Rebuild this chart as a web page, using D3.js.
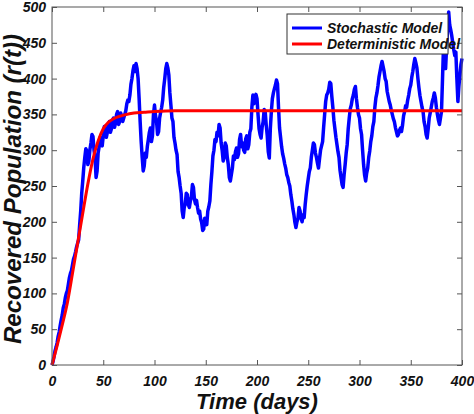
<!DOCTYPE html>
<html>
<head>
<meta charset="utf-8">
<script src="https://cdn.jsdelivr.net/npm/d3@7"></script>
<style>
  body { margin: 0; background: #fff; }
  text { font-family: "Liberation Sans", Arial, sans-serif; font-weight: bold; font-style: italic; }
</style>
</head>
<body>
<div id="app"></div>
<script>
// stochastic trajectory, one value per day (day 0..400)
const stochValues = [
  0, 5, 12, 20, 25, 31, 40, 46, 55, 63, 70, 80, 85, 94, 100, 104, 113, 122, 128, 132, 140,
  148, 152, 158, 165, 170, 175, 196, 215, 240, 257, 276, 290, 302, 299, 280, 285, 301, 310, 322, 319,
  300, 290, 262, 271, 296, 305, 318, 312, 306, 320, 333, 331, 318, 325, 336, 340, 325, 330, 342, 345,
  332, 338, 350, 354, 336, 340, 352, 348, 340, 345, 350, 355, 365, 370, 368, 377, 392, 400, 411, 418,
  410, 421, 414, 400, 372, 340, 312, 290, 271, 278, 296, 290, 305, 315, 325, 331, 312, 320, 350, 363,
  348, 340, 322, 326, 345, 353, 360, 370, 388, 400, 414, 421, 415, 405, 380, 363, 345, 340, 318, 310,
  300, 294, 270, 262, 250, 240, 215, 206, 220, 225, 240, 238, 224, 220, 229, 235, 252, 248, 231, 225,
  230, 220, 212, 215, 204, 199, 188, 190, 205, 201, 196, 215, 221, 229, 252, 270, 292, 300, 315, 312,
  325, 320, 336, 331, 310, 300, 285, 290, 310, 306, 290, 280, 262, 257, 266, 275, 292, 287, 298, 303,
  290, 295, 315, 322, 305, 310, 300, 297, 316, 320, 302, 308, 325, 330, 360, 377, 365, 370, 378, 372,
  350, 330, 322, 317, 332, 340, 357, 354, 335, 320, 298, 289, 330, 354, 372, 380, 386, 391, 398, 393,
  360, 331, 318, 305, 295, 289, 281, 275, 266, 262, 255, 250, 238, 229, 218, 210, 199, 192, 200, 205,
  220, 215, 205, 200, 210, 206, 224, 238, 250, 260, 270, 275, 290, 300, 310, 308, 296, 290, 282, 275,
  288, 300, 306, 312, 332, 350, 368, 377, 380, 385, 395, 393, 375, 360, 342, 330, 318, 308, 298, 290,
  272, 262, 252, 248, 266, 280, 296, 308, 330, 345, 358, 363, 372, 377, 385, 389, 372, 360, 350, 345,
  330, 322, 300, 280, 265, 257, 268, 275, 290, 299, 312, 320, 333, 340, 360, 373, 380, 390, 402, 410,
  418, 424, 417, 410, 400, 396, 382, 375, 368, 363, 356, 350, 344, 340, 332, 326, 320, 322, 328, 331,
  326, 335, 348, 354, 362, 360, 370, 377, 386, 391, 402, 410, 420, 428, 422, 415, 400, 387, 376, 368,
  360, 354, 340, 333, 322, 317, 330, 345, 352, 360, 368, 373, 380, 373, 360, 350, 342, 336, 345, 354,
  400, 447, 430, 414, 445, 470, 493, 475, 468, 460, 450, 440, 432, 437, 400, 368, 390, 405, 420, 428
];
const stochDays = d3.range(0, 401);

// deterministic curve
const detDays = [0, 5, 10, 15, 20, 25, 30, 35, 40, 45, 50, 55, 60, 65, 70, 80, 90, 100, 120, 150, 200, 250, 300, 350, 400];
const detValues = [0, 27, 56, 87, 128, 170, 212, 253, 288, 313, 330, 339, 344, 347, 349, 352, 353, 354, 355, 355, 355, 355, 355, 355, 355];

const xTicks = d3.range(0, 401, 50);
const yTicks = d3.range(0, 501, 50);
const seriesNames = ['Stochastic Model', 'Deterministic Model'];
const seriesColors = ['#0000ff', '#ff0000'];

const width = 474, height = 414;
const margin = { left: 52, right: 12, top: 7, bottom: 49 };

const svg = d3.select('#app').append('svg')
  .attr('width', width).attr('height', height);

const x = d3.scaleLinear().domain([0, 400]).range([margin.left, width - margin.right]);
const y = d3.scaleLinear().domain([0, 500]).range([height - margin.bottom, margin.top]);

const axisColor = '#555';

// axes with inward ticks
const styleAxis = (g) => {
  g.select('.domain').remove();
  g.selectAll('.tick line').attr('stroke', axisColor);
  g.selectAll('.tick text').attr('fill', '#111').style('font-size', '14px');
};

svg.append('g')
  .attr('transform', `translate(0,${y(0)})`)
  .call(d3.axisBottom(x).tickValues(xTicks).tickSizeInner(-5).tickSizeOuter(0).tickPadding(11))
  .call(styleAxis);
svg.append('g')
  .attr('transform', `translate(${x(0)},0)`)
  .call(d3.axisLeft(y).tickValues(yTicks).tickSizeInner(-5).tickSizeOuter(0).tickPadding(6))
  .call(styleAxis);
svg.append('g')
  .attr('transform', `translate(0,${y(500)})`)
  .call(d3.axisTop(x).tickValues(xTicks).tickSizeInner(-5).tickSizeOuter(0).tickFormat(''))
  .call(styleAxis);
svg.append('g')
  .attr('transform', `translate(${x(400)},0)`)
  .call(d3.axisRight(y).tickValues(yTicks).tickSizeInner(-5).tickSizeOuter(0).tickFormat(''))
  .call(styleAxis);

// lines
const line = d3.line().x((d) => x(d[0])).y((d) => y(d[1]));

svg.append('path')
  .datum(stochDays.map((d, i) => [d, stochValues[i]]))
  .attr('fill', 'none')
  .attr('stroke', seriesColors[0])
  .attr('stroke-width', 3.5)
  .attr('stroke-linejoin', 'round')
  .attr('d', line);

svg.append('path')
  .datum(detDays.map((d, i) => [d, detValues[i]]))
  .attr('fill', 'none')
  .attr('stroke', seriesColors[1])
  .attr('stroke-width', 3)
  .attr('d', line.curve(d3.curveMonotoneX));

// box
svg.append('rect')
  .attr('x', x(0)).attr('y', y(500))
  .attr('width', x(400) - x(0)).attr('height', y(0) - y(500))
  .attr('fill', 'none').attr('stroke', axisColor).attr('stroke-width', 1);

// legend
const legend = svg.append('g').attr('transform', 'translate(287,14)');
legend.append('rect')
  .attr('width', 161).attr('height', 40)
  .attr('fill', '#fff').attr('stroke', '#333').attr('stroke-width', 1);
legend.selectAll('g.item')
  .data(seriesNames)
  .join('g')
  .attr('class', 'item')
  .attr('transform', (d, i) => `translate(0,${14 + i * 16})`)
  .call((g) => g.append('line')
    .attr('x1', 5).attr('x2', 35)
    .attr('stroke', (d, i) => seriesColors[i]).attr('stroke-width', 3))
  .call((g) => g.append('text')
    .attr('x', 40).attr('y', 5)
    .style('font-size', '14px').attr('fill', '#111')
    .text((d) => d));

// axis titles
svg.append('text')
  .attr('x', (x(0) + x(400)) / 2).attr('y', 409)
  .attr('text-anchor', 'middle')
  .style('font-size', '22px').attr('fill', '#111')
  .text('Time (days)');
svg.append('text')
  .attr('transform', 'translate(21,189) rotate(-90)')
  .attr('text-anchor', 'middle')
  .attr('textLength', 310)
  .attr('lengthAdjust', 'spacingAndGlyphs')
  .style('font-size', '24px').attr('fill', '#111')
  .text('Recovered Population (r(t))');
</script>
</body>
</html>
